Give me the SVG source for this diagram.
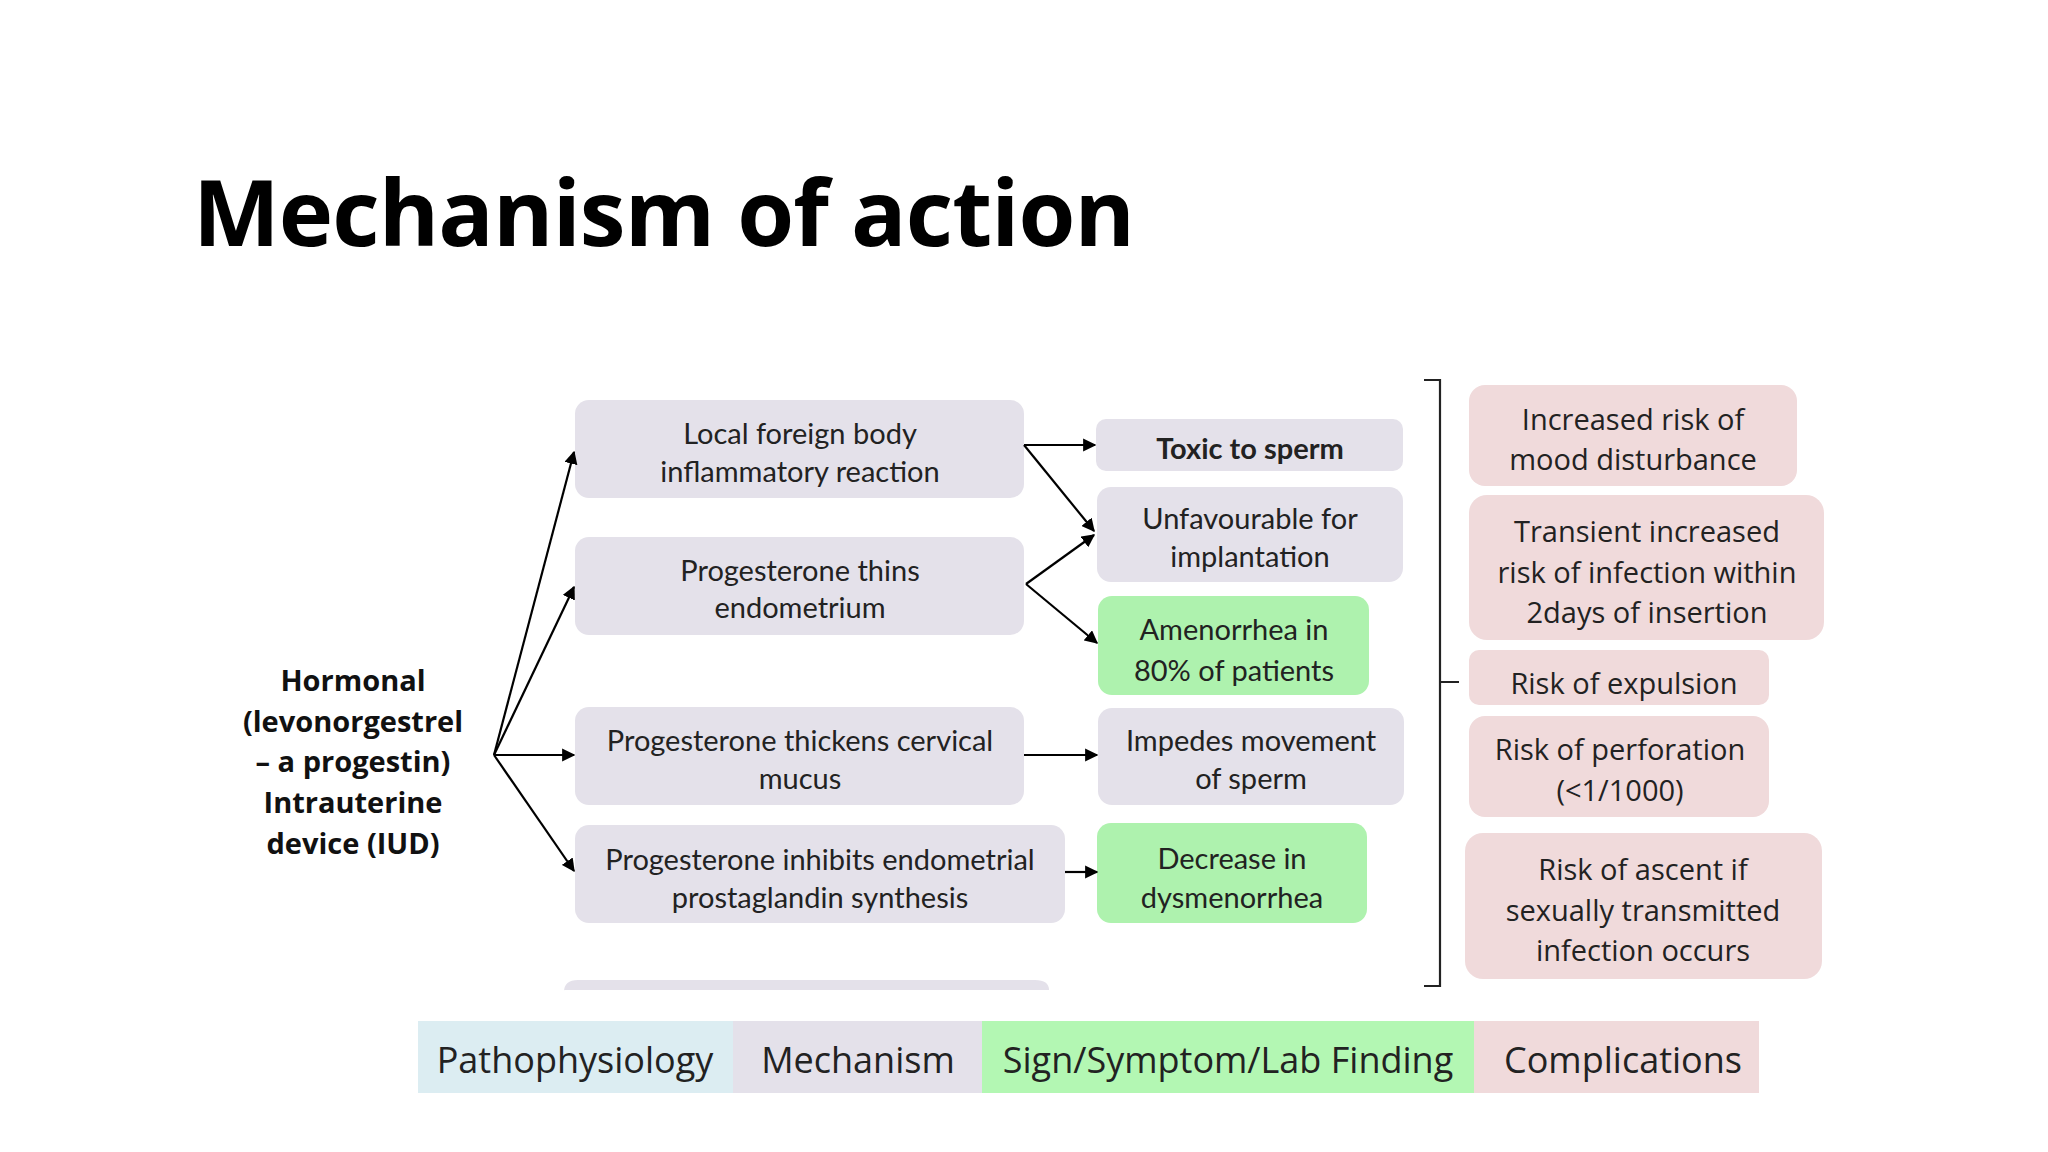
<svg xmlns="http://www.w3.org/2000/svg" width="2048" height="1152" viewBox="0 0 2048 1152">
<defs>
<marker id="ah" viewBox="0 0 10 10" refX="9" refY="5" markerWidth="6" markerHeight="6" orient="auto"><path d="M0,0 L10,5 L0,10 z" fill="#000"/></marker>
<style>
.m{fill:#E4E1EA}.g{fill:#AEF2AE}.p{fill:#F0DADB}
text{font-family:Lato,"Open Sans",sans-serif;font-size:29px;fill:#222;text-anchor:middle;dominant-baseline:central}
.c{font-family:"Open Sans",sans-serif;font-size:29px}
.h{font-family:"Open Sans",sans-serif;font-weight:bold;font-size:29px;fill:#111}
.l{font-family:"Open Sans",sans-serif;font-size:36px}
.cn{stroke:#000;stroke-width:2.2;fill:none;marker-end:url(#ah)}
</style>
</defs>
<rect width="2048" height="1152" fill="#fff"/>
<text x="193" y="210" style="font-family:'Open Sans',sans-serif;font-weight:bold;font-size:92px;text-anchor:start;fill:#000" textLength="942">Mechanism of action</text>

<g id="source"><text class="h" x="353" y="679">Hormonal</text><text class="h" x="353" y="720">(levonorgestrel</text><text class="h" x="353" y="760">– a progestin)</text><text class="h" x="353" y="801">Intrauterine</text><text class="h" x="353" y="842">device (IUD)</text></g>

<g id="n1"><rect class="m" x="575" y="400" width="449" height="98" rx="14"/><text x="800" y="432">Local foreign body</text><text x="800" y="470">inflammatory reaction</text></g>
<g id="n2"><rect class="m" x="575" y="537" width="449" height="98" rx="14"/><text x="800" y="569">Progesterone thins</text><text x="800" y="606">endometrium</text></g>
<g id="n3"><rect class="m" x="575" y="707" width="449" height="98" rx="14"/><text x="800" y="739">Progesterone thickens cervical</text><text x="800" y="777">mucus</text></g>
<g id="n4"><rect class="m" x="575" y="825" width="490" height="98" rx="14"/><text x="820" y="858">Progesterone inhibits endometrial</text><text x="820" y="896">prostaglandin synthesis</text></g>
<g id="n5"><path class="m" d="M564,990 V992 Q564,980 578,980 H1035 Q1049,980 1049,990 z"/></g>

<g id="t1"><rect class="m" x="1096" y="419" width="307" height="52" rx="10"/><text x="1250" y="447" style="font-weight:bold">Toxic to sperm</text></g>
<g id="t2"><rect class="m" x="1097" y="487" width="306" height="95" rx="14"/><text x="1250" y="517">Unfavourable for</text><text x="1250" y="555">implantation</text></g>
<g id="t3"><rect class="g" x="1098" y="596" width="271" height="99" rx="14"/><text x="1234" y="628">Amenorrhea in</text><text x="1234" y="669">80% of patients</text></g>
<g id="t4"><rect class="m" x="1098" y="708" width="306" height="97" rx="14"/><text x="1251" y="739">Impedes movement</text><text x="1251" y="777">of sperm</text></g>
<g id="t5"><rect class="g" x="1097" y="823" width="270" height="100" rx="14"/><text x="1232" y="857">Decrease in</text><text x="1232" y="896">dysmenorrhea</text></g>

<g id="c1"><rect class="p" x="1469" y="385" width="328" height="101" rx="16"/><text class="c" x="1633" y="418">Increased risk of</text><text class="c" x="1633" y="458">mood disturbance</text></g>
<g id="c2"><rect class="p" x="1469" y="495" width="355" height="145" rx="18"/><text class="c" x="1647" y="530">Transient increased</text><text class="c" x="1647" y="571">risk of infection within</text><text class="c" x="1647" y="611">2days of insertion</text></g>
<g id="c3"><rect class="p" x="1469" y="650" width="300" height="55" rx="10"/><text class="c" x="1624" y="682">Risk of expulsion</text></g>
<g id="c4"><rect class="p" x="1469" y="716" width="300" height="101" rx="16"/><text class="c" x="1620" y="748">Risk of perforation</text><text class="c" x="1620" y="789">(&lt;1/1000)</text></g>
<g id="c5"><rect class="p" x="1465" y="833" width="357" height="146" rx="18"/><text class="c" x="1643" y="868">Risk of ascent if</text><text class="c" x="1643" y="909">sexually transmitted</text><text class="c" x="1643" y="949">infection occurs</text></g>

<g id="connectors">
<line class="cn" x1="494" y1="755" x2="574" y2="452"/>
<line class="cn" x1="494" y1="755" x2="574" y2="587"/>
<line class="cn" x1="494" y1="755" x2="574" y2="755"/>
<line class="cn" x1="494" y1="755" x2="574" y2="871"/>
<line class="cn" x1="1024" y1="445" x2="1095" y2="445"/>
<line class="cn" x1="1024" y1="445" x2="1094" y2="531"/>
<line class="cn" x1="1026" y1="584" x2="1094" y2="535"/>
<line class="cn" x1="1026" y1="584" x2="1097" y2="643"/>
<line class="cn" x1="1024" y1="755" x2="1097" y2="755"/>
<line class="cn" x1="1065" y1="872" x2="1097" y2="872"/>
<path d="M1424,380 H1440 V986 H1424 M1440,682 H1459" stroke="#222" stroke-width="2.2" fill="none"/>
</g>

<g id="legend">
<rect x="418" y="1021" width="315" height="72" fill="#DCEDF2"/><text class="l" x="575" y="1059">Pathophysiology</text>
<rect x="733" y="1021" width="249" height="72" fill="#E4E1EA"/><text class="l" x="858" y="1059">Mechanism</text>
<rect x="982" y="1021" width="492" height="72" fill="#B3F7B3"/><text class="l" x="1228" y="1059">Sign/Symptom/Lab Finding</text>
<rect x="1474" y="1021" width="285" height="72" fill="#F0DADB"/><text class="l" x="1623" y="1059">Complications</text>
</g>
</svg>
